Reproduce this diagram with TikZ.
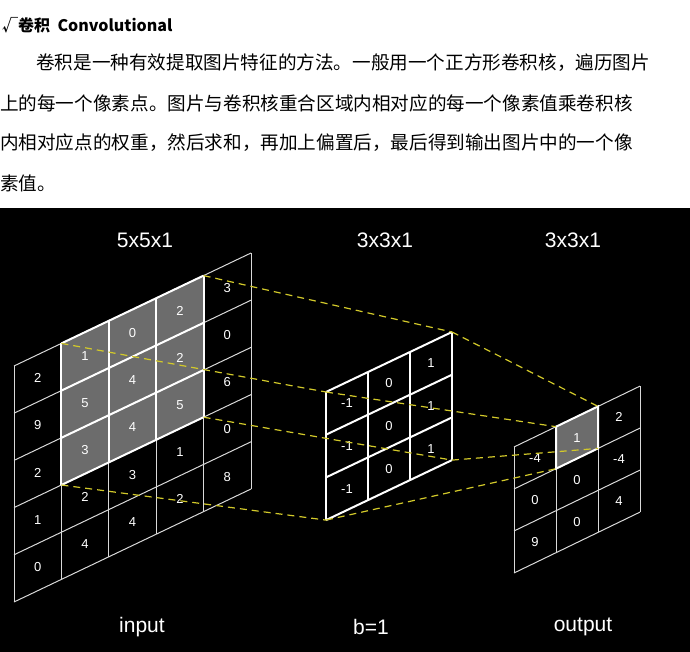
\documentclass[tikz,border=0pt]{standalone}
\usepackage{fontspec}
\setsansfont{Liberation Sans}
\newfontfamily\cjk{Noto Sans CJK SC}
\begin{document}
\begin{tikzpicture}[x=1pt,y=-1pt,
  thin grid/.style={draw=white!85!black,line width=1pt},
  thick grid/.style={draw=white,line width=2pt},
  val/.style={text=white,font=\sffamily\fontsize{13}{13}\selectfont,inner sep=0pt},
  title/.style={text=white,font=\sffamily\fontsize{21}{21}\selectfont,inner sep=0pt},
  link/.style={draw=yellow!80!black,dashed,dash pattern=on 7pt off 5pt,line width=1.2pt},
  para/.style={anchor=west,inner sep=0pt,font=\cjk\fontsize{18.6}{18.6}\selectfont}]
\useasboundingbox (0,0) rectangle (690,652);
\fill[white] (0,0) rectangle (690,208);
\fill[black] (0,208) rectangle (690,652);
% header text
\node[para,font=\cjk\bfseries\fontsize{16}{16}\selectfont] (h) at (2,25) {√卷积\ \ Convolutional};
\node[para] (l1) at (36,63) {卷积是一种有效提取图片特征的方法。一般用一个正方形卷积核，遍历图片};
\node[para] (l2) at (0,103) {上的每一个像素点。图片与卷积核重合区域内相对应的每一个像素值乘卷积核};
\node[para] (l3) at (0,143) {内相对应点的权重，然后求和，再加上偏置后，最后得到输出图片中的一个像};
\node[para] (l4) at (0,183) {素值。};
% ---------- input grid ----------
\def\ix{14}\def\iy{366}\def\iw{47.4}\def\id{-22.6}\def\ih{47.2}
\fill[gray!85!black] (\ix+\iw,\iy+\id) -- (\ix+4*\iw,\iy+4*\id) -- (\ix+4*\iw,\iy+4*\id+3*\ih) -- (\ix+\iw,\iy+\id+3*\ih) -- cycle;
\foreach \c in {0,...,5} \draw[thin grid] (\ix+\c*\iw,\iy+\c*\id) -- (\ix+\c*\iw,\iy+\c*\id+5*\ih);
\foreach \r in {0,...,5} \draw[thin grid] (\ix,\iy+\r*\ih) -- (\ix+5*\iw,\iy+5*\id+\r*\ih);
\foreach \c in {1,...,4} \draw[thick grid] (\ix+\c*\iw,\iy+\c*\id) -- (\ix+\c*\iw,\iy+\c*\id+3*\ih);
\foreach \r in {0,...,3} \draw[thick grid] (\ix+\iw,\iy+\id+\r*\ih) -- (\ix+4*\iw,\iy+4*\id+\r*\ih);
\foreach \col [count=\c from 0] in {{2,9,2,1,0},{1,5,3,2,4},{0,4,4,3,4},{2,2,5,1,2},{3,0,6,0,8}}
  \foreach \v [count=\r from 0] in \col
    \node[val] (in-\c-\r) at (\ix+\c*\iw+0.5*\iw,\iy+\c*\id+0.5*\id+\r*\ih+0.5*\ih) {\v};
\coordinate (iA) at (\ix+\iw,\iy+\id);
\coordinate (iB) at (\ix+4*\iw,\iy+4*\id);
\coordinate (iC) at (\ix+4*\iw,\iy+4*\id+3*\ih);
\coordinate (iD) at (\ix+\iw,\iy+\id+3*\ih);
% ---------- kernel ----------
\def\kx{326}\def\ky{392}\def\kw{42}\def\kd{-20}\def\kh{42.7}
\foreach \c in {0,...,3} \draw[thick grid] (\kx+\c*\kw,\ky+\c*\kd) -- (\kx+\c*\kw,\ky+\c*\kd+3*\kh);
\foreach \r in {0,...,3} \draw[thick grid] (\kx,\ky+\r*\kh) -- (\kx+3*\kw,\ky+3*\kd+\r*\kh);
\foreach \col [count=\c from 0] in {{-1,-1,-1},{0,0,0},{1,1,1}}
  \foreach \v [count=\r from 0] in \col
    \node[val] (k-\c-\r) at (\kx+\c*\kw+0.5*\kw,\ky+\c*\kd+0.5*\kd+\r*\kh+0.5*\kh) {\v};
\coordinate (kA) at (\kx,\ky);
\coordinate (kB) at (\kx+3*\kw,\ky+3*\kd);
\coordinate (kC) at (\kx+3*\kw,\ky+3*\kd+3*\kh);
\coordinate (kD) at (\kx,\ky+3*\kh);
% ---------- output ----------
\def\ox{514}\def\oy{447}\def\ow{42}\def\od{-20.3}\def\oh{42}
\fill[gray!85!black] (\ox+\ow,\oy+\od) -- (\ox+2*\ow,\oy+2*\od) -- (\ox+2*\ow,\oy+2*\od+\oh) -- (\ox+\ow,\oy+\od+\oh) -- cycle;
\foreach \c in {0,...,3} \draw[thin grid] (\ox+\c*\ow,\oy+\c*\od) -- (\ox+\c*\ow,\oy+\c*\od+3*\oh);
\foreach \r in {0,...,3} \draw[thin grid] (\ox,\oy+\r*\oh) -- (\ox+3*\ow,\oy+3*\od+\r*\oh);
\draw[thick grid] (\ox+\ow,\oy+\od) -- (\ox+2*\ow,\oy+2*\od) -- (\ox+2*\ow,\oy+2*\od+\oh) -- (\ox+\ow,\oy+\od+\oh) -- cycle;
\foreach \col [count=\c from 0] in {{-4,0,9},{1,0,0},{2,-4,4}}
  \foreach \v [count=\r from 0] in \col
    \node[val] (o-\c-\r) at (\ox+\c*\ow+0.5*\ow,\oy+\c*\od+0.5*\od+\r*\oh+0.5*\oh) {\v};
\coordinate (oA) at (\ox+\ow,\oy+\od);
\coordinate (oB) at (\ox+2*\ow,\oy+2*\od);
\coordinate (oC) at (\ox+2*\ow,\oy+2*\od+\oh);
\coordinate (oD) at (\ox+\ow,\oy+\od+\oh);
% ---------- links ----------
\draw[link] (iA) -- (kA); \draw[link] (iB) -- (kB);
\draw[link] (iC) -- (kC); \draw[link] (iD) -- (kD);
\draw[link] (kA) -- (oA); \draw[link] (kB) -- (oB);
\draw[link] (kC) -- (oC); \draw[link] (kD) -- (oD);
% ---------- labels ----------
\node[title] (t1) at (145,240) {5x5x1};
\node[title] (t2) at (385,240) {3x3x1};
\node[title] (t3) at (573,240) {3x3x1};
\node[title] (b1) at (142,627) {input};
\node[title] (b2) at (371,627) {b=1};
\node[title] (b3) at (583,627) {output};
\end{tikzpicture}
\end{document}
